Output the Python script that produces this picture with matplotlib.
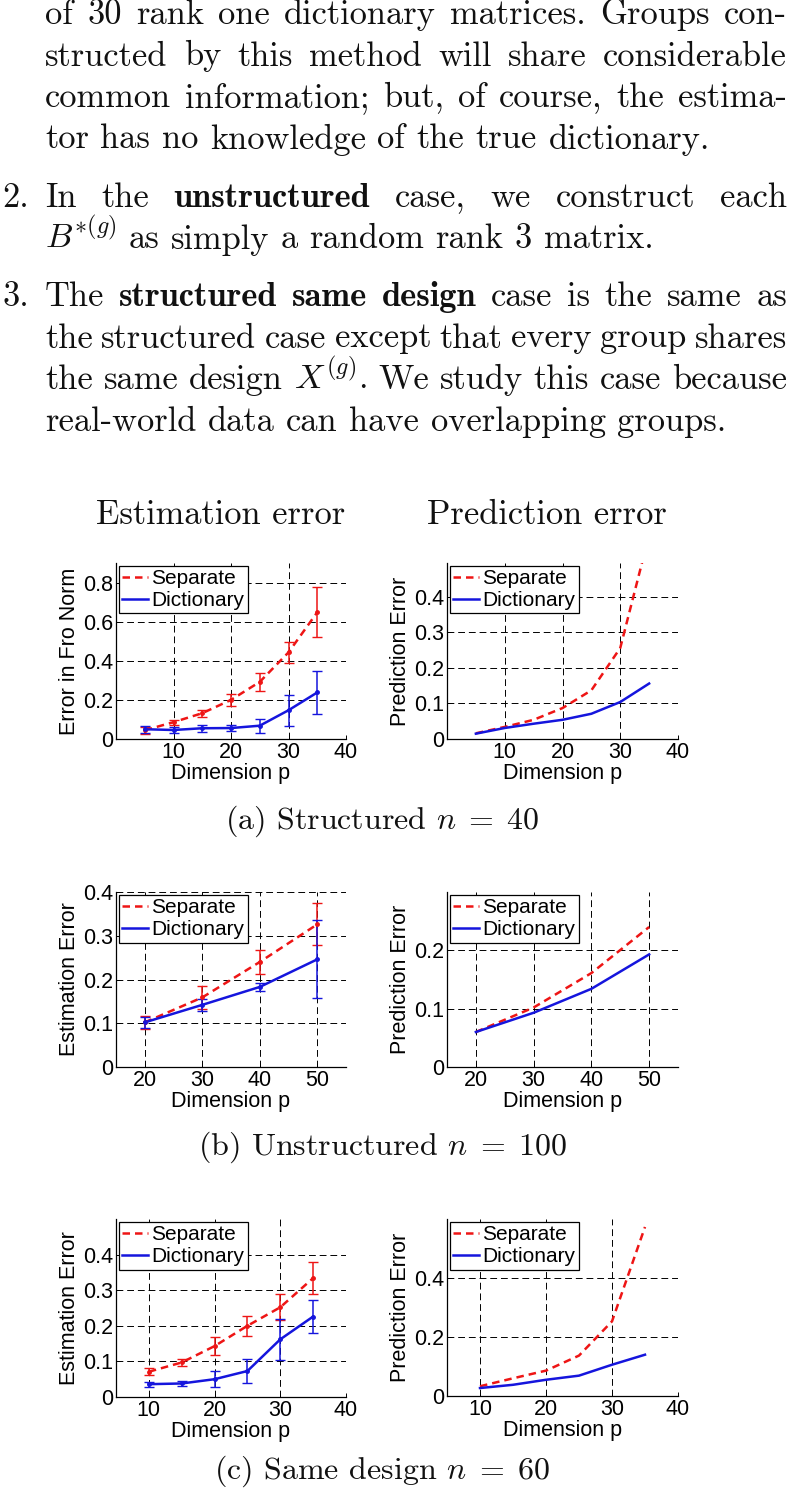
import matplotlib
matplotlib.use('Agg')
import matplotlib.pyplot as plt
from matplotlib.ticker import FuncFormatter

plt.rcParams['font.family'] = ['Liberation Sans', 'DejaVu Sans']
plt.rcParams['mathtext.fontset'] = 'cm'
plt.rcParams['axes.unicode_minus'] = False

W, H = 790, 1493

# ---- texto do artigo (linhas, ** = negrito) ----
linhas_par1 = [
    "of 30 rank one dictionary matrices. Groups con-",
    "structed by this method will share considerable",
    "common information; but, of course, the estima-",
    "tor has no knowledge of the true dictionary.",
]
linhas_item2 = [
    "In the **unstructured** case, we construct each",
    "$B^{*(g)}$ as simply a random rank 3 matrix.",
]
linhas_item3 = [
    "The **structured** **same** **design** case is the same as",
    "the structured case except that every group shares",
    "the same design $X^{(g)}$. We study this case because",
    "real-world data can have overlapping groups.",
]
titulos_colunas = ["Estimation error", "Prediction error"]
legendas = ["(a) Structured $n\\;=\\;40$", "(b) Unstructured $n\\;=\\;100$", "(c) Same design $n\\;=\\;60$"]

# ---- dados (a) estruturado n = 40 ----
p_a = [5, 10, 15, 20, 25, 30, 35]
est_sep_a = [0.045, 0.086, 0.132, 0.200, 0.292, 0.443, 0.648]
est_sep_a_err = [0.018, 0.013, 0.018, 0.030, 0.047, 0.055, 0.127]
est_dic_a = [0.050, 0.046, 0.055, 0.056, 0.068, 0.147, 0.238]
est_dic_a_err = [0.019, 0.015, 0.019, 0.017, 0.035, 0.080, 0.110]
pred_sep_a = [0.016, 0.034, 0.054, 0.087, 0.137, 0.256, 0.574]
pred_dic_a = [0.015, 0.031, 0.043, 0.054, 0.071, 0.104, 0.156]

# ---- dados (b) nao estruturado n = 100 ----
p_b = [20, 30, 40, 50]
est_sep_b = [0.102, 0.159, 0.240, 0.326]
est_sep_b_err = [0.015, 0.026, 0.027, 0.048]
est_dic_b = [0.102, 0.142, 0.183, 0.246]
est_dic_b_err = [0.013, 0.013, 0.009, 0.089]
pred_sep_b = [0.060, 0.102, 0.161, 0.240]
pred_dic_b = [0.060, 0.093, 0.134, 0.193]

# ---- dados (c) mesmo design n = 60 ----
p_c = [10, 15, 20, 25, 30, 35]
est_sep_c = [0.071, 0.097, 0.143, 0.200, 0.252, 0.334]
est_sep_c_err = [0.010, 0.010, 0.026, 0.028, 0.037, 0.046]
est_dic_c = [0.036, 0.038, 0.050, 0.073, 0.162, 0.226]
est_dic_c_err = [0.007, 0.007, 0.022, 0.033, 0.058, 0.047]
pred_sep_c = [0.033, 0.060, 0.086, 0.137, 0.253, 0.573]
pred_dic_c = [0.027, 0.038, 0.055, 0.069, 0.106, 0.140]

VERMELHO = '#ee1515'
AZUL = '#1515dd'
COR_TEXTO = '#111111'

fig = plt.figure(figsize=(W / 100, H / 100), dpi=100)
rend = fig.canvas.get_renderer()

FS_TEXTO = 24.8
ESPACO = 0.333 * FS_TEXTO * 100 / 72


# Função para escrever uma linha de texto (justificada ou não)
def escrever_linha(linha, base_y, x0=45, x1=787, justificar=True):
    objs = []
    for palavra in linha.split(' '):
        familia = 'cmr10'
        if palavra.startswith('**') and palavra.endswith('**'):
            palavra = palavra[2:-2]
            familia = 'cmb10'
        objs.append(fig.text(0, 1 - base_y / H, palavra, family=familia,
                             fontsize=FS_TEXTO, va='baseline', ha='left', color=COR_TEXTO))
    larguras = [t.get_window_extent(renderer=rend).width for t in objs]
    if justificar and len(objs) > 1:
        gap = (x1 - x0 - sum(larguras)) / (len(objs) - 1)
    else:
        gap = ESPACO
    x = x0
    for t, w in zip(objs, larguras):
        t.set_x(x / W)
        x += w + gap


def escrever_bloco(linhas, y0, passo=41.5):
    for i, linha in enumerate(linhas):
        escrever_linha(linha, y0 + i * passo, justificar=(i < len(linhas) - 1))


escrever_bloco(linhas_par1, 24)
escrever_bloco(linhas_item2, 207)
escrever_bloco(linhas_item3, 306)
fig.text(2 / W, 1 - 207 / H, "2.", family='cmr10', fontsize=FS_TEXTO, va='baseline', ha='left', color=COR_TEXTO)
fig.text(2 / W, 1 - 306 / H, "3.", family='cmr10', fontsize=FS_TEXTO, va='baseline', ha='left', color=COR_TEXTO)

# titulos das colunas
fig.text(221 / W, 1 - 524 / H, titulos_colunas[0], family='cmr10', fontsize=FS_TEXTO,
         va='baseline', ha='center', color=COR_TEXTO)
fig.text(547 / W, 1 - 524 / H, titulos_colunas[1], family='cmr10', fontsize=FS_TEXTO,
         va='baseline', ha='center', color=COR_TEXTO)

# legendas das figuras
for texto, yb in zip(legendas, [829, 1155, 1479]):
    fig.text(382 / W, 1 - yb / H, texto, family='cmr10', fontsize=23,
             va='baseline', ha='center', color=COR_TEXTO)


def fmt_y(v, pos):
    if abs(v) < 1e-9:
        return '0'
    return f'{v:g}'


# Função para desenhar um painel
def desenhar_painel(rect, p, sep, dic, xlim, ylim, xticks, yticks, ylabel,
                    sep_err=None, dic_err=None):
    l, t, r, b = rect
    ax = fig.add_axes([l / W, 1 - b / H, (r - l) / W, (b - t) / H])
    ax.plot(p, sep, color=VERMELHO, lw=1.8, linestyle=(0, (3.0, 2.0)), label='Separate')
    ax.plot(p, dic, color=AZUL, lw=1.8, label='Dictionary')
    if sep_err is not None:
        ax.errorbar(p, sep, yerr=sep_err, fmt='none', ecolor=VERMELHO, elinewidth=1.1, capsize=3.5)
        ax.errorbar(p, dic, yerr=dic_err, fmt='none', ecolor=AZUL, elinewidth=1.1, capsize=3.5)
        ax.plot(p, sep, ls='none', marker='.', ms=5, color=VERMELHO)
        ax.plot(p, dic, ls='none', marker='.', ms=5, color=AZUL)
    ax.set_xlim(*xlim)
    ax.set_ylim(*ylim)
    ax.set_xticks(xticks)
    ax.set_yticks(yticks)
    ax.yaxis.set_major_formatter(FuncFormatter(fmt_y))
    ax.grid(True, color='black', linestyle=(0, (7, 4)), linewidth=0.7)
    ax.set_axisbelow(True)
    for s in ['top', 'right']:
        ax.spines[s].set_visible(False)
    for s in ['left', 'bottom']:
        ax.spines[s].set_linewidth(0.9)
    ax.tick_params(direction='in', length=3, width=0.7, labelsize=15.5, pad=2)
    ax.set_xlabel('Dimension p', fontsize=15.5, labelpad=0)
    ax.set_ylabel(ylabel, fontsize=15.5, labelpad=2)
    leg = ax.legend(loc='upper left', fontsize=15, frameon=True, fancybox=False,
                    edgecolor='black', framealpha=1, borderpad=0.15, borderaxespad=0.15,
                    handlelength=1.25, handletextpad=0.15, labelspacing=0.15)
    leg.get_frame().set_linewidth(0.9)
    return ax


# (a)
desenhar_painel((116, 563, 346, 739), p_a, est_sep_a, est_dic_a, (0, 40), (0, 0.9),
                [10, 20, 30, 40], [0, 0.2, 0.4, 0.6, 0.8], 'Error in Fro Norm',
                est_sep_a_err, est_dic_a_err)
desenhar_painel((447, 563, 678, 739), p_a, pred_sep_a, pred_dic_a, (0, 40), (0, 0.495),
                [10, 20, 30, 40], [0, 0.1, 0.2, 0.3, 0.4], 'Prediction Error')
# (b)
desenhar_painel((116, 892, 346, 1067), p_b, est_sep_b, est_dic_b, (15, 55), (0, 0.4),
                [20, 30, 40, 50], [0, 0.1, 0.2, 0.3, 0.4], 'Estimation Error',
                est_sep_b_err, est_dic_b_err)
desenhar_painel((447, 892, 678, 1067), p_b, pred_sep_b, pred_dic_b, (15, 55), (0, 0.3),
                [20, 30, 40, 50], [0, 0.1, 0.2], 'Prediction Error')
# (c)
desenhar_painel((116, 1219, 346, 1397), p_c, est_sep_c, est_dic_c, (5, 40), (0, 0.5),
                [10, 20, 30, 40], [0, 0.1, 0.2, 0.3, 0.4], 'Estimation Error',
                est_sep_c_err, est_dic_c_err)
desenhar_painel((447, 1219, 678, 1396), p_c, pred_sep_c, pred_dic_c, (5, 40), (0, 0.6),
                [10, 20, 30, 40], [0, 0.2, 0.4], 'Prediction Error')

fig.savefig('out.png', dpi=100)
